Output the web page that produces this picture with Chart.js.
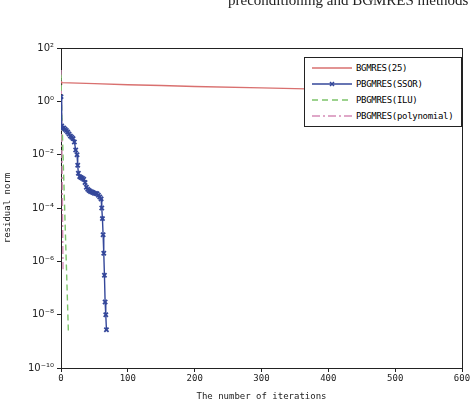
<!DOCTYPE html>
<html>
<head>
<script src="https://cdn.jsdelivr.net/npm/chart.js@4"></script>
<style>
  body { margin: 0; background: #fff; }
  #wrap { position: relative; width: 474px; height: 402px; overflow: hidden; }
  #title { position: absolute; left: 228px; top: -8px; font: 15px "Liberation Serif", serif; color: #222; white-space: nowrap; }
  #legend { position: absolute; left: 304px; top: 57px; width: 156px; height: 68px; border: 1px solid #222; background: #fff;
    font: 9px "DejaVu Sans Mono", monospace; letter-spacing: -0.3px; }
  .row { display: flex; align-items: center; height: 16px; }
  .row svg { margin: 0 4px 0 7px; flex: none; }
</style>
</head>
<body>
<div id="wrap">
  <div id="title">preconditioning and BGMRES methods</div>
  <canvas id="c" width="474" height="402"></canvas>
  <div id="legend"></div>
</div>
<script>
// BGMRES(25)
const bgX = [0, 1, 50, 100, 150, 200, 300, 400, 500, 600];
const bgY = [5.5, 5, 4.6, 4.2, 3.9, 3.6, 3.2, 2.8, 2.5, 2.3];
// PBGMRES(SSOR)
const ssorX = [0, 1, 2, 4, 6, 8, 10, 12, 14, 16, 18, 20, 22, 24, 25, 26, 28, 30, 32, 34, 36, 38, 40, 42, 44, 46, 48, 50, 52, 54, 56, 58, 60, 61, 62, 63, 64, 65, 66, 67, 68];
const ssorY = [1.5, 0.12, 0.1, 0.1, 0.09, 0.08, 0.07, 0.06, 0.05, 0.045, 0.04, 0.03, 0.015, 0.01, 0.004, 0.002, 0.0015, 0.0014, 0.0013, 0.0012, 0.0009, 0.0006, 0.0005, 0.00045, 0.00042, 0.0004, 0.00038, 0.00036, 0.00035, 0.00034, 0.0003, 0.00026, 0.00022, 0.0001, 0.00004, 0.00001, 2e-6, 3e-7, 3e-8, 1e-8, 2.7e-9];
// PBGMRES(ILU)
const iluX = [0, 1, 11];
const iluY = [10, 0.5, 2.5e-9];
// PBGMRES(polynomial)
const polyX = [0, 1, 3];
const polyY = [15, 0.2, 5e-7];
const yTicks = [-10, -8, -6, -4, -2, 0, 2];
const xTicks = [0, 100, 200, 300, 400, 500, 600];

const sup = {"-": "\u207b", "0": "\u2070", "1": "\u00b9", "2": "\u00b2", "4": "\u2074", "6": "\u2076", "8": "\u2078"};
const toPts = (xs, ys) => xs.map((x, i) => ({ x, y: ys[i] }));
const mono = "'DejaVu Sans Mono', monospace";

const series = [
  { label: "BGMRES(25)", data: toPts(bgX, bgY), borderColor: "#d9706f", dash: [], pointRadius: 0 },
  { label: "PBGMRES(SSOR)", data: toPts(ssorX, ssorY), borderColor: "#34479a", dash: [], pointRadius: 3 },
  { label: "PBGMRES(ILU)", data: toPts(iluX, iluY), borderColor: "#7cc46a", dash: [6, 4], pointRadius: 0 },
  { label: "PBGMRES(polynomial)", data: toPts(polyX, polyY), borderColor: "#d58bb6", dash: [8, 3, 2, 3], pointRadius: 0 }
];

new Chart(document.getElementById("c"), {
  type: "line",
  data: {
    datasets: series.map(s => ({
      label: s.label, data: s.data, borderColor: s.borderColor, backgroundColor: s.borderColor,
      borderDash: s.dash, borderWidth: 1.4, pointRadius: s.pointRadius, pointStyle: "crossRot",
      pointBorderWidth: 1.8, tension: 0
    }))
  },
  options: {
    responsive: false, animation: false,
    layout: { padding: { top: 48, right: 12, left: 0, bottom: 0 } },
    plugins: { legend: { display: false }, tooltip: { enabled: false } },
    scales: {
      x: {
        type: "linear", min: 0, max: 600,
        afterBuildTicks: a => { a.ticks = xTicks.map(v => ({ value: v })); },
        afterFit: a => { a.height = 34; },
        grid: { drawOnChartArea: false, tickLength: 4, color: "#222" },
        border: { color: "#222" },
        ticks: { color: "#222", font: { family: mono, size: 9 }, padding: 1 },
        title: { display: true, text: "The number of iterations", color: "#222", font: { family: mono, size: 9 }, padding: 0 }
      },
      y: {
        type: "logarithmic", min: 1e-10, max: 1e2,
        afterBuildTicks: a => { a.ticks = yTicks.map(e => ({ value: Math.pow(10, e) })); },
        afterFit: a => { a.width = 61; },
        grid: { drawOnChartArea: false, tickLength: 4, color: "#222" },
        border: { color: "#222" },
        ticks: {
          color: "#222", font: { family: "'DejaVu Sans', sans-serif", size: 10 }, padding: 3,
          callback: v => "10" + String(Math.round(Math.log10(v))).split("").map(ch => sup[ch]).join("")
        },
        title: { display: true, text: "residual norm", color: "#222", font: { family: mono, size: 9 }, padding: 2 }
      },
      x2: { position: "top", type: "linear", min: 0, max: 600, ticks: { display: false }, grid: { drawOnChartArea: false, tickLength: 0 }, border: { color: "#222" } },
      y2: { position: "right", type: "logarithmic", min: 1e-10, max: 1e2, ticks: { display: false }, grid: { drawOnChartArea: false, tickLength: 0 }, border: { color: "#222" } }
    }
  }
});

// Legend box drawn as HTML, inside the plot
const legend = document.getElementById("legend");
series.forEach(s => {
  const row = document.createElement("div");
  row.className = "row";
  const mark = s.pointRadius ? `<path d="M18 3 l4 4 M22 3 l-4 4" stroke="${s.borderColor}" stroke-width="1.5"/>` : "";
  row.innerHTML = `<svg width="40" height="10"><line x1="0" y1="5" x2="40" y2="5" stroke="${s.borderColor}" stroke-width="1.4" stroke-dasharray="${s.dash.join(" ")}"/>${mark}</svg><span>${s.label}</span>`;
  legend.appendChild(row);
});
legend.firstChild.style.marginTop = "2px";
</script>
</body>
</html>
